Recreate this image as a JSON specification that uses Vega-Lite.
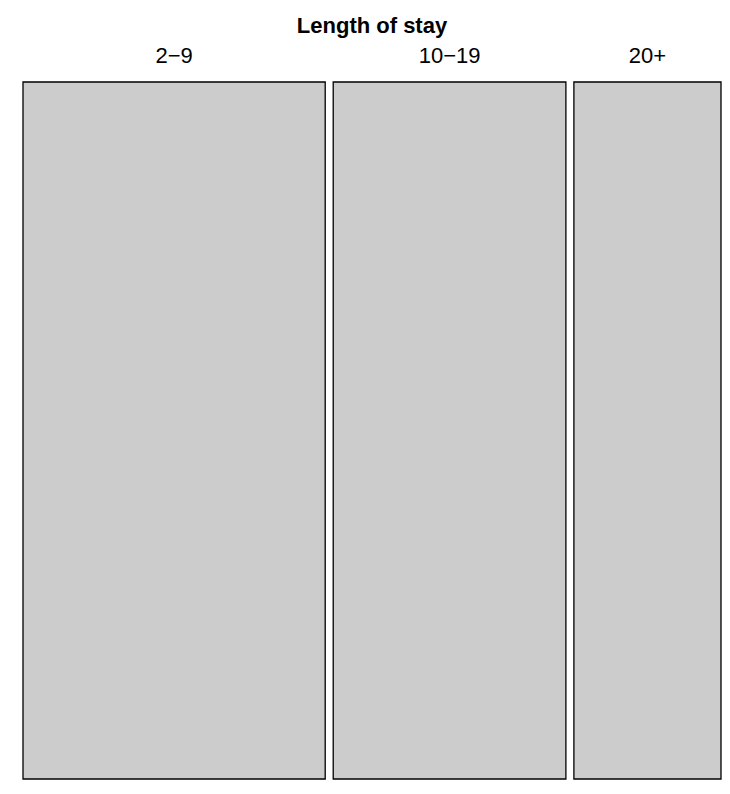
{
  "$schema": "https://vega.github.io/schema/vega-lite/v6.json",
  "autosize": "none",
  "width": 706,
  "height": 697,
  "padding": {"left": 19, "top": 82, "right": 5, "bottom": 15},
  "background": "white",
  "title": {
    "text": "Length of stay",
    "font": "Liberation Sans",
    "fontSize": 22,
    "fontWeight": "bold",
    "color": "black",
    "baseline": "alphabetic",
    "offset": -10,
    "anchor": "middle"
  },
  "data": {
    "values": [
      {"stay": "2−9", "count": 58},
      {"stay": "10−19", "count": 45},
      {"stay": "20+", "count": 29}
    ]
  },
  "transform": [
    {"stack": "count", "groupby": [], "as": ["x0", "x1"]},
    {"calculate": "(datum.x0 + datum.x1) / 2", "as": "mid"}
  ],
  "layer": [
    {
      "mark": {
        "type": "rect",
        "fill": "#cccccc",
        "stroke": "black",
        "strokeWidth": 1.3,
        "xOffset": 4,
        "x2Offset": -4
      },
      "encoding": {
        "x": {"field": "x0", "type": "quantitative", "axis": null, "scale": {"nice": false, "zero": true}},
        "x2": {"field": "x1"}
      }
    },
    {
      "mark": {
        "type": "text",
        "font": "Liberation Sans",
        "fontSize": 22,
        "baseline": "alphabetic",
        "align": "center",
        "dy": -19
      },
      "encoding": {
        "x": {"field": "mid", "type": "quantitative"},
        "y": {"value": 0},
        "text": {"field": "stay"},
        "color": {"value": "black"}
      }
    }
  ],
  "config": {"view": {"stroke": null}}
}
